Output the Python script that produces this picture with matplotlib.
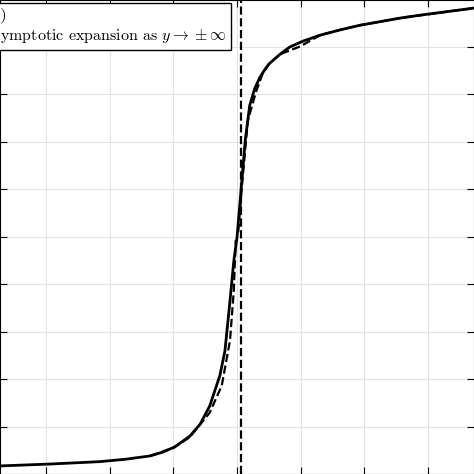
import matplotlib
matplotlib.use("Agg")
import matplotlib.pyplot as plt

plt.rcParams["font.family"] = "serif"
plt.rcParams["font.serif"] = ["cmr10"]
plt.rcParams["mathtext.fontset"] = "cm"
plt.rcParams["axes.formatter.use_mathtext"] = True

# solid curve
x_exact = [-3.73, -2.94, -2.16, -1.76, -1.37, -1.17, -0.98, -0.74, -0.58, -0.43, -0.27,
           -0.19, -0.11, -0.05, 0.0, 0.05, 0.13, 0.20, 0.28, 0.36, 0.44, 0.50, 0.68,
           0.83, 1.05, 1.31, 1.62, 1.94, 2.57, 2.88, 3.73]
y_exact = [0.17, 0.21, 0.26, 0.31, 0.38, 0.46, 0.57, 0.80, 1.05, 1.43, 2.07,
           2.59, 3.65, 4.49, 4.98, 5.76, 7.03, 7.76, 8.12, 8.35, 8.52, 8.63, 8.84,
           8.99, 9.12, 9.24, 9.35, 9.45, 9.60, 9.66, 9.81]

# asymptotic branches
x_asym_lo = [-1.37, -1.0, -0.74, -0.43, -0.24, -0.11, -0.05, -0.02]
y_asym_lo = [0.38, 0.55, 0.78, 1.29, 1.86, 2.81, 3.87, 4.92]
x_asym_hi = [0.02, 0.08, 0.17, 0.30, 0.40, 0.52, 0.68, 0.99, 1.31, 1.62, 1.94, 2.57, 3.73]
y_asym_hi = [5.1, 6.1, 7.44, 8.05, 8.42, 8.66, 8.84, 9.0, 9.24, 9.35, 9.45, 9.60, 9.81]

x_pole = 0.06

fig = plt.figure(figsize=(4.74, 4.74), dpi=100)
ax = fig.add_axes([0, 0, 1, 1])
ax.grid(True, color="#e3e3e3", lw=0.8)
ax.set_axisbelow(True)
l1, = ax.plot(x_exact, y_exact, "k-", lw=2, label="f(y)")
l2, = ax.plot(x_asym_lo, y_asym_lo, "k--", lw=1.6,
              label=r"Asymptotic expansion as $y \to \pm\infty$")
ax.plot(x_asym_hi, y_asym_hi, "k--", lw=1.6)
ax.axvline(x_pole, color="k", ls="--", lw=1.6)
ax.set_xlim(-3.73, 3.73)
ax.set_ylim(0, 9.98)
ax.set_xticks([-3, -2, -1, 0, 1, 2, 3])
ax.set_yticks(range(1, 10))
ax.tick_params(direction="in", top=True, right=True, labelbottom=False,
               labelleft=False, length=5)
ax.legend(handles=[l1, l2], loc="upper right", bbox_to_anchor=(0.487, 0.993),
          fontsize=11.5, fancybox=False, edgecolor="k", framealpha=1,
          borderaxespad=0, handlelength=2, labelspacing=0.2, borderpad=0.3)
fig.savefig("out.png", dpi=100)
